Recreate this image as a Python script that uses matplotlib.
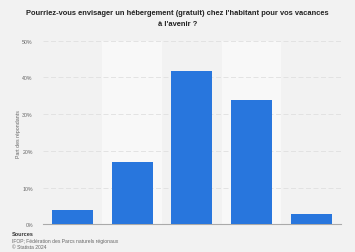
import numpy as np
import matplotlib.pyplot as plt

plt.rcParams['font.family'] = ['Liberation Sans', 'DejaVu Sans']

# Réponses (pas d'étiquettes visibles sur le graphique)
categories = ['1', '2', '3', '4', '5']
values = [3.8, 16.9, 41.9, 34.0, 2.8]
yticks = [0, 10, 20, 30, 40, 50]

bg = '#f2f2f2'
fig = plt.figure(figsize=(3.55, 2.53), dpi=100, facecolor=bg)
ax = fig.add_axes([0.120, 0.109, 0.841, 0.726], facecolor=bg)

x = np.arange(len(categories))

# bandes claires derrière une catégorie sur deux
for i in x[1::2]:
    ax.axvspan(i - 0.5, i + 0.5, color='#f8f8f8', zorder=0, lw=0)

for t in yticks[1:]:
    ax.axhline(t, color='#e0e0e0', lw=0.6, ls=(0, (6, 3)), zorder=1)

ax.bar(x, values, width=0.69, color='#2876dd', zorder=3)

ax.set_xlim(-0.5, 4.5)
ax.set_ylim(0, 50)
ax.set_xticks([])
ax.set_yticks(yticks)
ax.set_yticklabels([f'{t}%' for t in yticks], fontsize=3.8, color='#666666')
ax.tick_params(axis='y', length=0, pad=7)
for s in ['top', 'right', 'left']:
    ax.spines[s].set_visible(False)
ax.spines['bottom'].set_color('#aaaaaa')
ax.spines['bottom'].set_linewidth(0.8)
ax.set_ylabel('Part des répondants', fontsize=3.8, color='#666666', labelpad=1)

fig.text(0.5, 0.925, "Pourriez-vous envisager un hébergement (gratuit) chez l'habitant pour vos vacances\nà l'avenir ?",
         ha='center', va='center', fontsize=5.4, fontweight='bold', color='#222222', linespacing=1.7)

fig.text(0.034, 0.072, 'Sources', fontsize=4, fontweight='bold', color='#333333', va='center')
fig.text(0.034, 0.047, 'IFOP; Fédération des Parcs naturels régionaux', fontsize=3.6, color='#666666', va='center')
fig.text(0.034, 0.023, '© Statista 2024', fontsize=3.6, color='#666666', va='center')

fig.savefig('out.png', dpi=100, facecolor=bg)
